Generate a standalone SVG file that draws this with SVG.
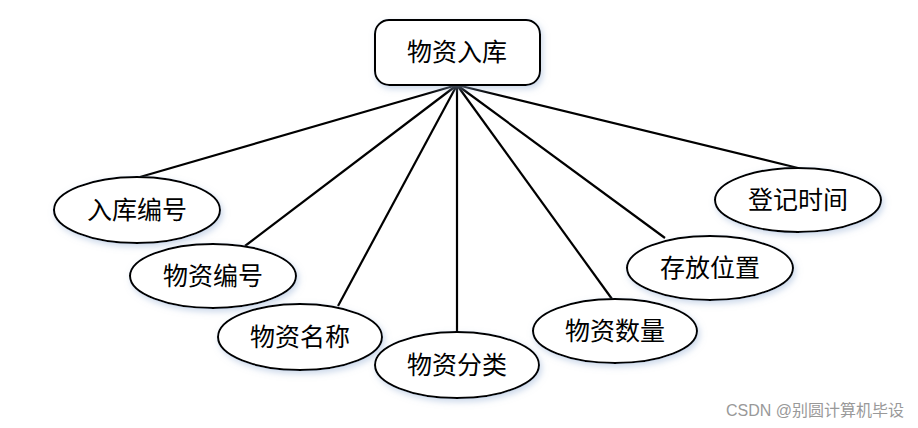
<svg xmlns="http://www.w3.org/2000/svg" width="918" height="428" viewBox="0 0 918 428">
<defs>
<filter id="sh" x="-20%" y="-30%" width="140%" height="160%"><feDropShadow dx="2" dy="3" stdDeviation="3" flood-color="#9bb4d6" flood-opacity="0.5"/></filter>
</defs>
<style>
.n{fill:#fff;stroke:#000;stroke-width:2;filter:url(#sh)}
.t{font-family:"Liberation Serif","Noto Sans CJK SC",serif;font-size:25px;text-anchor:middle;dominant-baseline:central;fill:#000}
.c line{stroke:#000;stroke-width:2.2}
</style>
<rect width="918" height="428" fill="#fff"/>
<g class="c">
<line x1="457" y1="85" x2="140" y2="177"/>
<line x1="457" y1="85" x2="245" y2="246"/>
<line x1="457" y1="85" x2="338" y2="306"/>
<line x1="457" y1="85" x2="457" y2="332"/>
<line x1="457" y1="85" x2="612" y2="299"/>
<line x1="457" y1="85" x2="665" y2="238"/>
<line x1="457" y1="85" x2="798" y2="168"/>
</g>
<g id="root"><rect class="n" x="375" y="20" width="165" height="65" rx="14"/><text class="t" x="457" y="52">物资入库</text></g>
<g id="e1"><ellipse class="n" cx="137" cy="210" rx="83" ry="33"/><text class="t" x="137" y="210">入库编号</text></g>
<g id="e2"><ellipse class="n" cx="213" cy="276" rx="83" ry="32"/><text class="t" x="213" y="276">物资编号</text></g>
<g id="e3"><ellipse class="n" cx="300" cy="337" rx="82" ry="33"/><text class="t" x="300" y="337">物资名称</text></g>
<g id="e4"><ellipse class="n" cx="457" cy="365" rx="82" ry="33"/><text class="t" x="457" y="365">物资分类</text></g>
<g id="e5"><ellipse class="n" cx="615" cy="331" rx="82" ry="32"/><text class="t" x="615" y="331">物资数量</text></g>
<g id="e6"><ellipse class="n" cx="710" cy="268" rx="83" ry="32"/><text class="t" x="710" y="268">存放位置</text></g>
<g id="e7"><ellipse class="n" cx="798" cy="200" rx="83" ry="32"/><text class="t" x="798" y="200">登记时间</text></g>
<text x="904" y="410" font-family="'Liberation Sans','Noto Sans CJK SC',sans-serif" font-size="16" fill="#999" text-anchor="end" dominant-baseline="central">CSDN @别圆计算机毕设</text>
</svg>
